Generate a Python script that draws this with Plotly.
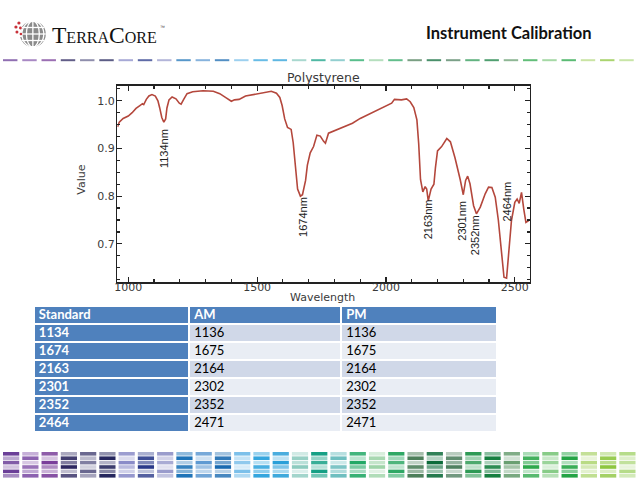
import plotly.graph_objects as go

W, H = 638, 478


def fx(p):
    return p / W


def fy(p):
    return 1 - p / H


# ---------------- data ----------------
wavelength = [958, 965, 980, 1000, 1015, 1030, 1045, 1055, 1060, 1070, 1080, 1092, 1105, 1115,
              1122, 1130, 1138, 1145, 1150, 1158, 1170, 1185, 1198, 1205, 1215, 1228, 1250,
              1290, 1330, 1355, 1380, 1400, 1412, 1430, 1455, 1495, 1530, 1555, 1575, 1588,
              1597, 1607, 1618, 1632, 1640, 1648, 1657, 1668, 1676, 1688, 1695, 1706, 1719,
              1732, 1745, 1758, 1765, 1777, 1800, 1825, 1845, 1870, 1900, 1935, 1975, 2005,
              2022, 2033, 2060, 2080, 2094, 2108, 2120, 2127, 2134, 2143, 2152, 2158, 2164,
              2175, 2186, 2192, 2200, 2216, 2236, 2250, 2268, 2288, 2300, 2309, 2317, 2326,
              2340, 2351, 2366, 2385, 2398, 2411, 2424, 2436, 2448, 2458, 2468, 2478, 2487,
              2500, 2509, 2517, 2526, 2535, 2543, 2557]
value = [0.945, 0.955, 0.963, 0.968, 0.975, 0.984, 0.99, 0.994, 0.992, 1.003, 1.01, 1.013, 1.01,
         1.0, 0.985, 0.965, 0.955, 0.962, 0.985, 1.002, 1.008, 1.004, 0.995, 0.993, 1.003, 1.015,
         1.019, 1.021, 1.02, 1.015, 1.006, 0.999, 1.002, 1.003, 1.01, 1.014, 1.018, 1.02, 1.016,
         1.007, 0.99, 0.962, 0.944, 0.94, 0.912, 0.86, 0.815, 0.8, 0.803, 0.833, 0.865, 0.891,
         0.904, 0.928, 0.926, 0.915, 0.911, 0.932, 0.937, 0.942, 0.946, 0.953, 0.963, 0.972,
         0.983, 0.99, 0.995, 1.003, 1.002, 1.004, 0.998, 0.986, 0.96, 0.91, 0.835, 0.809, 0.82,
         0.815, 0.79, 0.815, 0.825, 0.86, 0.895, 0.904, 0.921, 0.914, 0.88, 0.835, 0.803, 0.833,
         0.842, 0.826, 0.78, 0.763, 0.777, 0.805, 0.819, 0.818, 0.798, 0.75, 0.675, 0.63, 0.628,
         0.7, 0.749, 0.787, 0.794, 0.785, 0.808, 0.772, 0.745, 0.75]

peak_labels = ["1134nm", "1674nm", "2163nm", "2301nm", "2352nm", "2464nm"]
peak_label_x = [1139, 1675, 2162, 2296, 2343, 2470]
peak_label_y = [0.899, 0.757, 0.751, 0.749, 0.719, 0.789]

x_ticks = [1000, 1500, 2000, 2500]
y_ticks = [0.7, 0.8, 0.9, 1.0]

table_header = ["Standard", "AM", "PM"]
standard = ["1134", "1674", "2163", "2301", "2352", "2464"]
am = ["1136", "1675", "2164", "2302", "2352", "2471"]
pm = ["1136", "1675", "2164", "2302", "2352", "2471"]

# decorative palette (left to right)
band_colors = ["#6b3f98", "#8c62b0", "#7a3f9a", "#2e2860", "#6a6890", "#26275e", "#8a8cc8",
               "#2a3a8a", "#9a9ccc", "#1f74b8", "#5f9ad2", "#1a6ab0", "#7cc0ea", "#35a6de",
               "#2a9fd8", "#8ccbbf", "#16a085", "#6fbfc0", "#22a866", "#9ed4a8", "#2fa865",
               "#4d7f5a", "#0d6b3a", "#4f8060", "#2e9a55", "#167f40", "#6a9f72", "#2ea84c",
               "#88cc88", "#24a446", "#b9db85", "#8dc63f", "#b6dc8a"]
stripe_patterns = [[1.0, 0.45, 0.85, 0.3, 1.0, 0.6],
                   [0.5, 1.0, 0.35, 0.9, 0.55, 1.0],
                   [0.85, 0.3, 1.0, 0.6, 0.4, 0.9],
                   [0.4, 0.9, 0.6, 1.0, 0.3, 0.8]]


def mix(hexc, f):
    r, g, b = int(hexc[1:3], 16), int(hexc[3:5], 16), int(hexc[5:7], 16)
    r = round(255 - (255 - r) * f)
    g = round(255 - (255 - g) * f)
    b = round(255 - (255 - b) * f)
    return f"rgb({r},{g},{b})"


BLUE = "#4F81BD"
ROWS = ["#D0D8E8", "#E9EDF4"] * 3
CLEAR = "rgba(0,0,0,0)"

# ---------------- figure ----------------
fig = go.Figure()

fig.add_trace(go.Scatter(
    x=wavelength, y=value, mode="lines",
    line=dict(color="#b4473c", width=1.6),
    hoverinfo="skip", showlegend=False,
))

# table: cell fills (no text) ...
T_LEFT, T_SPLIT, T_RIGHT, T_TOP, T_BOTTOM = 31, 187, 497, 306, 434
fig.add_trace(go.Table(
    domain=dict(x=[fx(T_LEFT), fx(T_RIGHT)], y=[fy(T_BOTTOM), fy(T_TOP)]),
    columnwidth=[156, 153, 157],
    header=dict(values=[""] * 3, fill_color=BLUE, height=18,
                line=dict(color="white", width=2)),
    cells=dict(values=[[""] * 6] * 3, fill_color=[[BLUE] * 6, ROWS, ROWS], height=18,
               line=dict(color="white", width=2)),
    hoverinfo="skip",
))
# ... and the texts, nudged up/left to sit centred in the cells
DX, DY = 3, 4.5
bold = dict(family="Lato", size=13, color="white", weight="bold")
fig.add_trace(go.Table(
    domain=dict(x=[fx(T_LEFT - DX), fx(T_SPLIT - DX)],
                y=[fy(T_BOTTOM - DY), fy(T_TOP - DY)]),
    header=dict(values=[table_header[0]], fill_color=CLEAR, font=bold,
                align="left", height=18, line=dict(color=CLEAR, width=0)),
    cells=dict(values=[standard], fill_color=CLEAR, font=bold,
               align="left", height=18, line=dict(color=CLEAR, width=0)),
    hoverinfo="skip",
))
fig.add_trace(go.Table(
    domain=dict(x=[fx(T_SPLIT - DX), fx(T_RIGHT - DX)],
                y=[fy(T_BOTTOM - DY), fy(T_TOP - DY)]),
    columnwidth=[153, 157],
    header=dict(values=table_header[1:], fill_color=CLEAR, font=bold,
                align="left", height=18, line=dict(color=CLEAR, width=0)),
    cells=dict(values=[am, pm], fill_color=CLEAR,
               font=dict(family="Lato", size=13, color="black"),
               align="left", height=18, line=dict(color=CLEAR, width=0)),
    hoverinfo="skip",
))

axis_font = dict(family="DejaVu Sans", size=11, color="#3a3a3a")

fig.update_xaxes(
    domain=[fx(115), fx(529)], range=[958, 2557],
    tickvals=x_ticks, ticks="inside", ticklen=5, tickwidth=1.2, tickcolor="#222",
    minor=dict(dtick=100, ticks="inside", ticklen=3, tickcolor="#222"),
    showline=True, linecolor="#222", linewidth=1.6, mirror="allticks",
    showgrid=False, zeroline=False, tickfont=axis_font, ticklabelstandoff=-6,
)
fig.update_yaxes(
    domain=[fy(282), fy(86)], range=[0.62, 1.031],
    tickvals=y_ticks, tickformat=".1f", ticks="inside", ticklen=5, tickwidth=1.2,
    tickcolor="#222",
    minor=dict(dtick=0.025, ticks="inside", ticklen=3, tickcolor="#222"),
    showline=True, linecolor="#222", linewidth=1.6, mirror="allticks",
    showgrid=False, zeroline=False, tickfont=axis_font, ticklabelstandoff=-1,
)

annotations = []
for lab, lx, ly in zip(peak_labels, peak_label_x, peak_label_y):
    annotations.append(dict(x=lx, y=ly, xref="x", yref="y", text=lab, textangle=-90,
                            showarrow=False, xanchor="center", yanchor="middle",
                            font=dict(family="Liberation Sans", size=11, color="#222")))

annotations += [
    dict(x=fx(322), y=fy(77), text="Polystyrene",
         font=dict(family="DejaVu Sans", size=12.5, color="#3a3a3a")),
    dict(x=fx(321), y=fy(297), text="Wavelength", font=axis_font),
    dict(x=fx(78), y=fy(180), text="Value", textangle=-90, font=axis_font),
    dict(x=fx(594), y=fy(33), xanchor="right", text="Instrument Calibration",
         font=dict(family="Lato", size=16.5, color="#111", weight="bold")),
    dict(x=fx(47), y=fy(35), xanchor="left", text="TerraCore",
         font=dict(family="Liberation Serif", size=23.5, color="#111",
                   variant="small-caps")),
    dict(x=fx(156), y=fy(27), xanchor="left", text="™",
         font=dict(family="Liberation Sans", size=5, color="#444")),
]
for a in annotations[len(peak_labels):]:
    a.update(xref="paper", yref="paper", showarrow=False)
    a.setdefault("xanchor", "center")
    a["yanchor"] = "middle"

shapes = []
# globe logo
cx, cy, r = 30, 34, 13
shapes.append(dict(type="circle", xref="paper", yref="paper",
                   x0=fx(cx - r), x1=fx(cx + r), y0=fy(cy + r), y1=fy(cy - r),
                   fillcolor="#8a8a8a", line=dict(width=0)))
for hw in (6.5, 11):
    shapes.append(dict(type="circle", xref="paper", yref="paper",
                       x0=fx(cx - hw), x1=fx(cx + hw), y0=fy(cy + r), y1=fy(cy - r),
                       fillcolor=CLEAR, line=dict(color="white", width=1.3)))
shapes.append(dict(type="line", xref="paper", yref="paper",
                   x0=fx(cx), x1=fx(cx), y0=fy(cy + r), y1=fy(cy - r),
                   line=dict(color="white", width=1.3)))
for dy, hw in [(-6.5, 11.3), (0, 13), (6.5, 11.3)]:
    shapes.append(dict(type="line", xref="paper", yref="paper",
                       x0=fx(cx - hw), x1=fx(cx + hw), y0=fy(cy + dy), y1=fy(cy + dy),
                       line=dict(color="white", width=1.3)))
shapes.append(dict(type="rect", xref="paper", yref="paper",
                   x0=fx(10), x1=fx(19), y0=fy(37), y1=fy(20),
                   fillcolor="white", line=dict(width=0)))
for dx, dyy, rr in [(16, 23, 1.6), (13, 27, 1.6), (17.5, 28, 1.4), (14, 32, 1.5), (18, 34, 1.3)]:
    shapes.append(dict(type="circle", xref="paper", yref="paper",
                       x0=fx(dx - rr), x1=fx(dx + rr), y0=fy(dyy + rr), y1=fy(dyy - rr),
                       fillcolor="#c8323a", line=dict(width=0)))

# dashed header rule and bottom striped band
period = 19.35
for i, c in enumerate(band_colors):
    x0 = i * period
    shapes.append(dict(type="rect", xref="paper", yref="paper",
                       x0=fx(x0), x1=fx(min(x0 + 14.5, W)), y0=fy(61.2), y1=fy(59.2),
                       fillcolor=mix(c, 0.75), line=dict(width=0)))
    pat = stripe_patterns[i % len(stripe_patterns)]
    for k, f in enumerate(pat):
        y0 = 452 + k * 4.4
        shapes.append(dict(type="rect", xref="paper", yref="paper",
                           x0=fx(x0), x1=fx(min(x0 + 16.3, W)),
                           y0=fy(min(y0 + 3.6, H)), y1=fy(y0),
                           fillcolor=mix(c, f), line=dict(width=0)))

fig.update_layout(
    width=W, height=H,
    margin=dict(l=0, r=0, t=0, b=0),
    paper_bgcolor="white", plot_bgcolor="white",
    showlegend=False,
    annotations=annotations,
    shapes=shapes,
)

fig.write_html("out.html",
               config={"displayModeBar": False, "staticPlot": True},
               post_script="document.body.style.margin='0';"
                           "document.body.style.overflow='hidden';")
